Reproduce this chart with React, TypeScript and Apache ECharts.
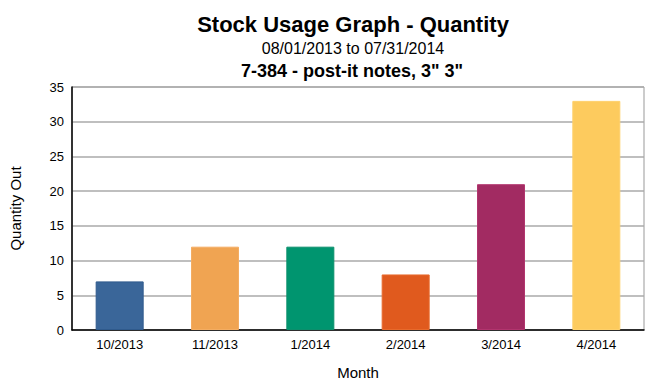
import React, { useEffect, useRef } from "react";
import * as echarts from "echarts";

const categories = ["10/2013", "11/2013", "1/2014", "2/2014", "3/2014", "4/2014"];
const values = [7, 12, 12, 8, 21, 33];
const colors = ["#3a6699", "#f0a452", "#00956f", "#e05a1e", "#a22b62", "#fdcb5e"];
const borders = ["#2f5a8c", "#f4ad62", "#0b8f6c", "#e86a2c", "#b2356e", "#fed06a"];

export default function App() {
  const ref = useRef<HTMLDivElement>(null);
  useEffect(() => {
    if (!ref.current) return;
    const chart = echarts.init(ref.current, undefined, { renderer: "svg" });
    const font = "Liberation Sans, Arial, sans-serif";
    chart.setOption({
      animation: false,
      textStyle: { fontFamily: font },
      title: [
        { text: "Stock Usage Graph - Quantity", left: 348, top: 8, textAlign: "center",
          textStyle: { fontSize: 22, fontWeight: "bold", color: "#000", fontFamily: font } },
        { text: "08/01/2013 to 07/31/2014", left: 348, top: 35, textAlign: "center",
          textStyle: { fontSize: 16, fontWeight: "normal", color: "#000", fontFamily: font } },
        { text: '7-384 - post-it notes, 3" 3"', left: 347, top: 57, textAlign: "center",
          textStyle: { fontSize: 18, fontWeight: "bold", color: "#000", fontFamily: font } },
      ],
      grid: { left: 69, top: 87, width: 575, height: 246, show: true, borderColor: "#999", borderWidth: 1, backgroundColor: "transparent" },
      xAxis: {
        type: "category",
        data: categories,
        name: "Month",
        nameLocation: "middle",
        nameGap: 35,
        nameTextStyle: { fontSize: 15, color: "#000", fontFamily: font },
        axisLine: { lineStyle: { color: "#000", width: 1.5 } },
        axisTick: { show: false },
        axisLabel: { fontSize: 13, color: "#000", margin: 8, fontFamily: font },
      },
      yAxis: {
        type: "value",
        min: 0,
        max: 35,
        interval: 5,
        name: "Quantity Out",
        nameLocation: "middle",
        nameGap: 49,
        nameTextStyle: { fontSize: 15, color: "#000", fontFamily: font },
        axisLine: { show: true, lineStyle: { color: "#000", width: 1.5 } },
        axisTick: { show: false },
        axisLabel: { fontSize: 13, color: "#000", margin: 8, fontFamily: font },
        splitLine: { lineStyle: { color: "#aaa", width: 1.5 } },
      },
      series: [
        {
          type: "bar",
          barWidth: 48,
          data: values.map((v, i) => ({
            value: v,
            itemStyle: { color: colors[i], borderColor: borders[i], borderWidth: 1 },
          })),
        },
      ],
    });
    return () => chart.dispose();
  }, []);
  return <div ref={ref} style={{ width: 664, height: 385, position: "absolute", left: 0, top: 0 }} />;
}
